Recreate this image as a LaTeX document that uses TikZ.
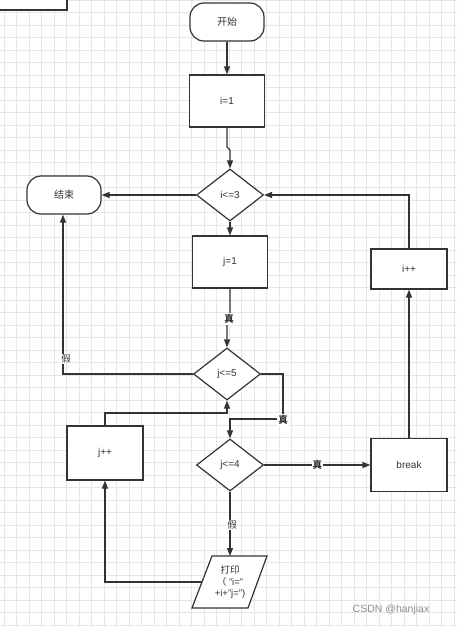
\documentclass[tikz,border=0pt]{standalone}
\usepackage{fontspec}
\setmainfont{Liberation Sans}
\newfontfamily\cjk{Noto Sans CJK SC}
\usetikzlibrary{arrows.meta,shapes.geometric}
\definecolor{ln}{HTML}{333333}
\definecolor{gridc}{HTML}{E6E6E6}
\tikzset{
  every node/.style={font=\fontsize{10}{12}\selectfont, text=ln},
  box/.style={draw=ln, line width=1.2pt, fill=white, minimum width=75pt, minimum height=52pt, inner sep=0pt},
  term/.style={draw=ln, line width=1.2pt, fill=white, rounded corners=14pt, minimum width=74pt, minimum height=38pt, inner sep=0pt},
  dec/.style={draw=ln, line width=1.2pt, fill=white, diamond, aspect=1.3, minimum width=67pt, minimum height=52pt, inner sep=0pt},
  iotext/.style={inner sep=0pt, align=center, font=\fontsize{9.5}{11.7}\selectfont, minimum width=40pt, minimum height=52pt},
  conn/.style={draw=ln, line width=1.2pt, -{Triangle[length=8pt,width=6pt]}},
  lab/.style={fill=white, inner sep=1pt, font=\fontsize{9.5}{10}\selectfont\cjk\bfseries}
}
\begin{document}
\begin{tikzpicture}[x=1pt,y=-1pt]
\useasboundingbox (0,0) rectangle (457,627);
\fill[white] (0,0) rectangle (457,627);
\foreach \i in {0,...,36} {\draw[gridc, line width=0.5pt] (4+12.5*\i,0) -- (4+12.5*\i,627);}
\foreach \i in {0,...,50} {\draw[gridc, line width=0.5pt] (0,12.5*\i) -- (457,12.5*\i);}
% partial box at top-left
\draw[ln, line width=1.2pt, fill=white] (-5,-5) rectangle (67,10);

\node[term] (start) at (227,22) {\cjk 开始};
\node[box] (i1) at (227,101) {i=1};
\node[dec] (d3) at (230,195) {i<=3};
\node[term] (end) at (64,195) {\cjk 结束};
\node[box] (j1) at (230,262) {j=1};
\node[dec] (d5) at (227,374) {j<=5};
\node[box, minimum height=54pt, minimum width=76pt] (jpp) at (105,453) {j++};
\node[dec] (d4) at (230,465) {j<=4};
\node[box, minimum width=76pt, minimum height=53pt] (brk) at (409,465) {break};
\node[box, minimum width=76pt, minimum height=40pt] (ipp) at (409,269) {i++};
% print parallelogram
\draw[ln, line width=1.2pt, fill=white] (212,556) -- (267,556) -- (248,608) -- (192,608) -- cycle;
\node[iotext] (prt) at (230,582) {{\cjk 打印}\\{\cjk （} "i="\\+i+"j=")};
\coordinate (prtw) at (202,582);

\draw[conn] (start) -- (i1);
\draw[conn] (i1.south) -- (227,147) -- (230,150) -- (d3.north);
\draw[conn] (d3.west) -- (end.east);
\draw[conn] (d3.south) -- (j1.north);
\draw[conn] (j1.south) -- (230,318) -- (227,320) -- (d5.north);
\node[lab] (t0) at (229,319) {真};
\draw[conn] (d5.west) -- (63,374) -- (end.south -| 63,0);
\node[lab, font=\fontsize{9.5}{10}\selectfont\cjk] (f0) at (66,359) {假};
\draw[conn] (d5.east) -- (283,374) -- (283,419) -- (230,419) -- (d4.north);
\node[lab] (t1) at (283,420) {真};
\draw[conn] (jpp.north) -- (105,413) -- (227,413) -- (d5.south);
\draw[conn] (d4.east) -- node[lab, pos=0.5]{真} (brk.west);
\draw[conn] (brk.north) -- (ipp.south);
\draw[conn] (ipp.north) -- (409,195) -- (d3.east);
\draw[conn] (d4.south) -- (230,556);
\node[lab, font=\fontsize{9.5}{10}\selectfont\cjk] (f1) at (232,525) {假};
\draw[conn] (prtw) -- (105,582) -- (jpp.south);

\node[text=black!45, font=\fontsize{10.5}{12}\selectfont] (csdn) at (391,610) {CSDN @hanjiax};
\end{tikzpicture}
\end{document}
